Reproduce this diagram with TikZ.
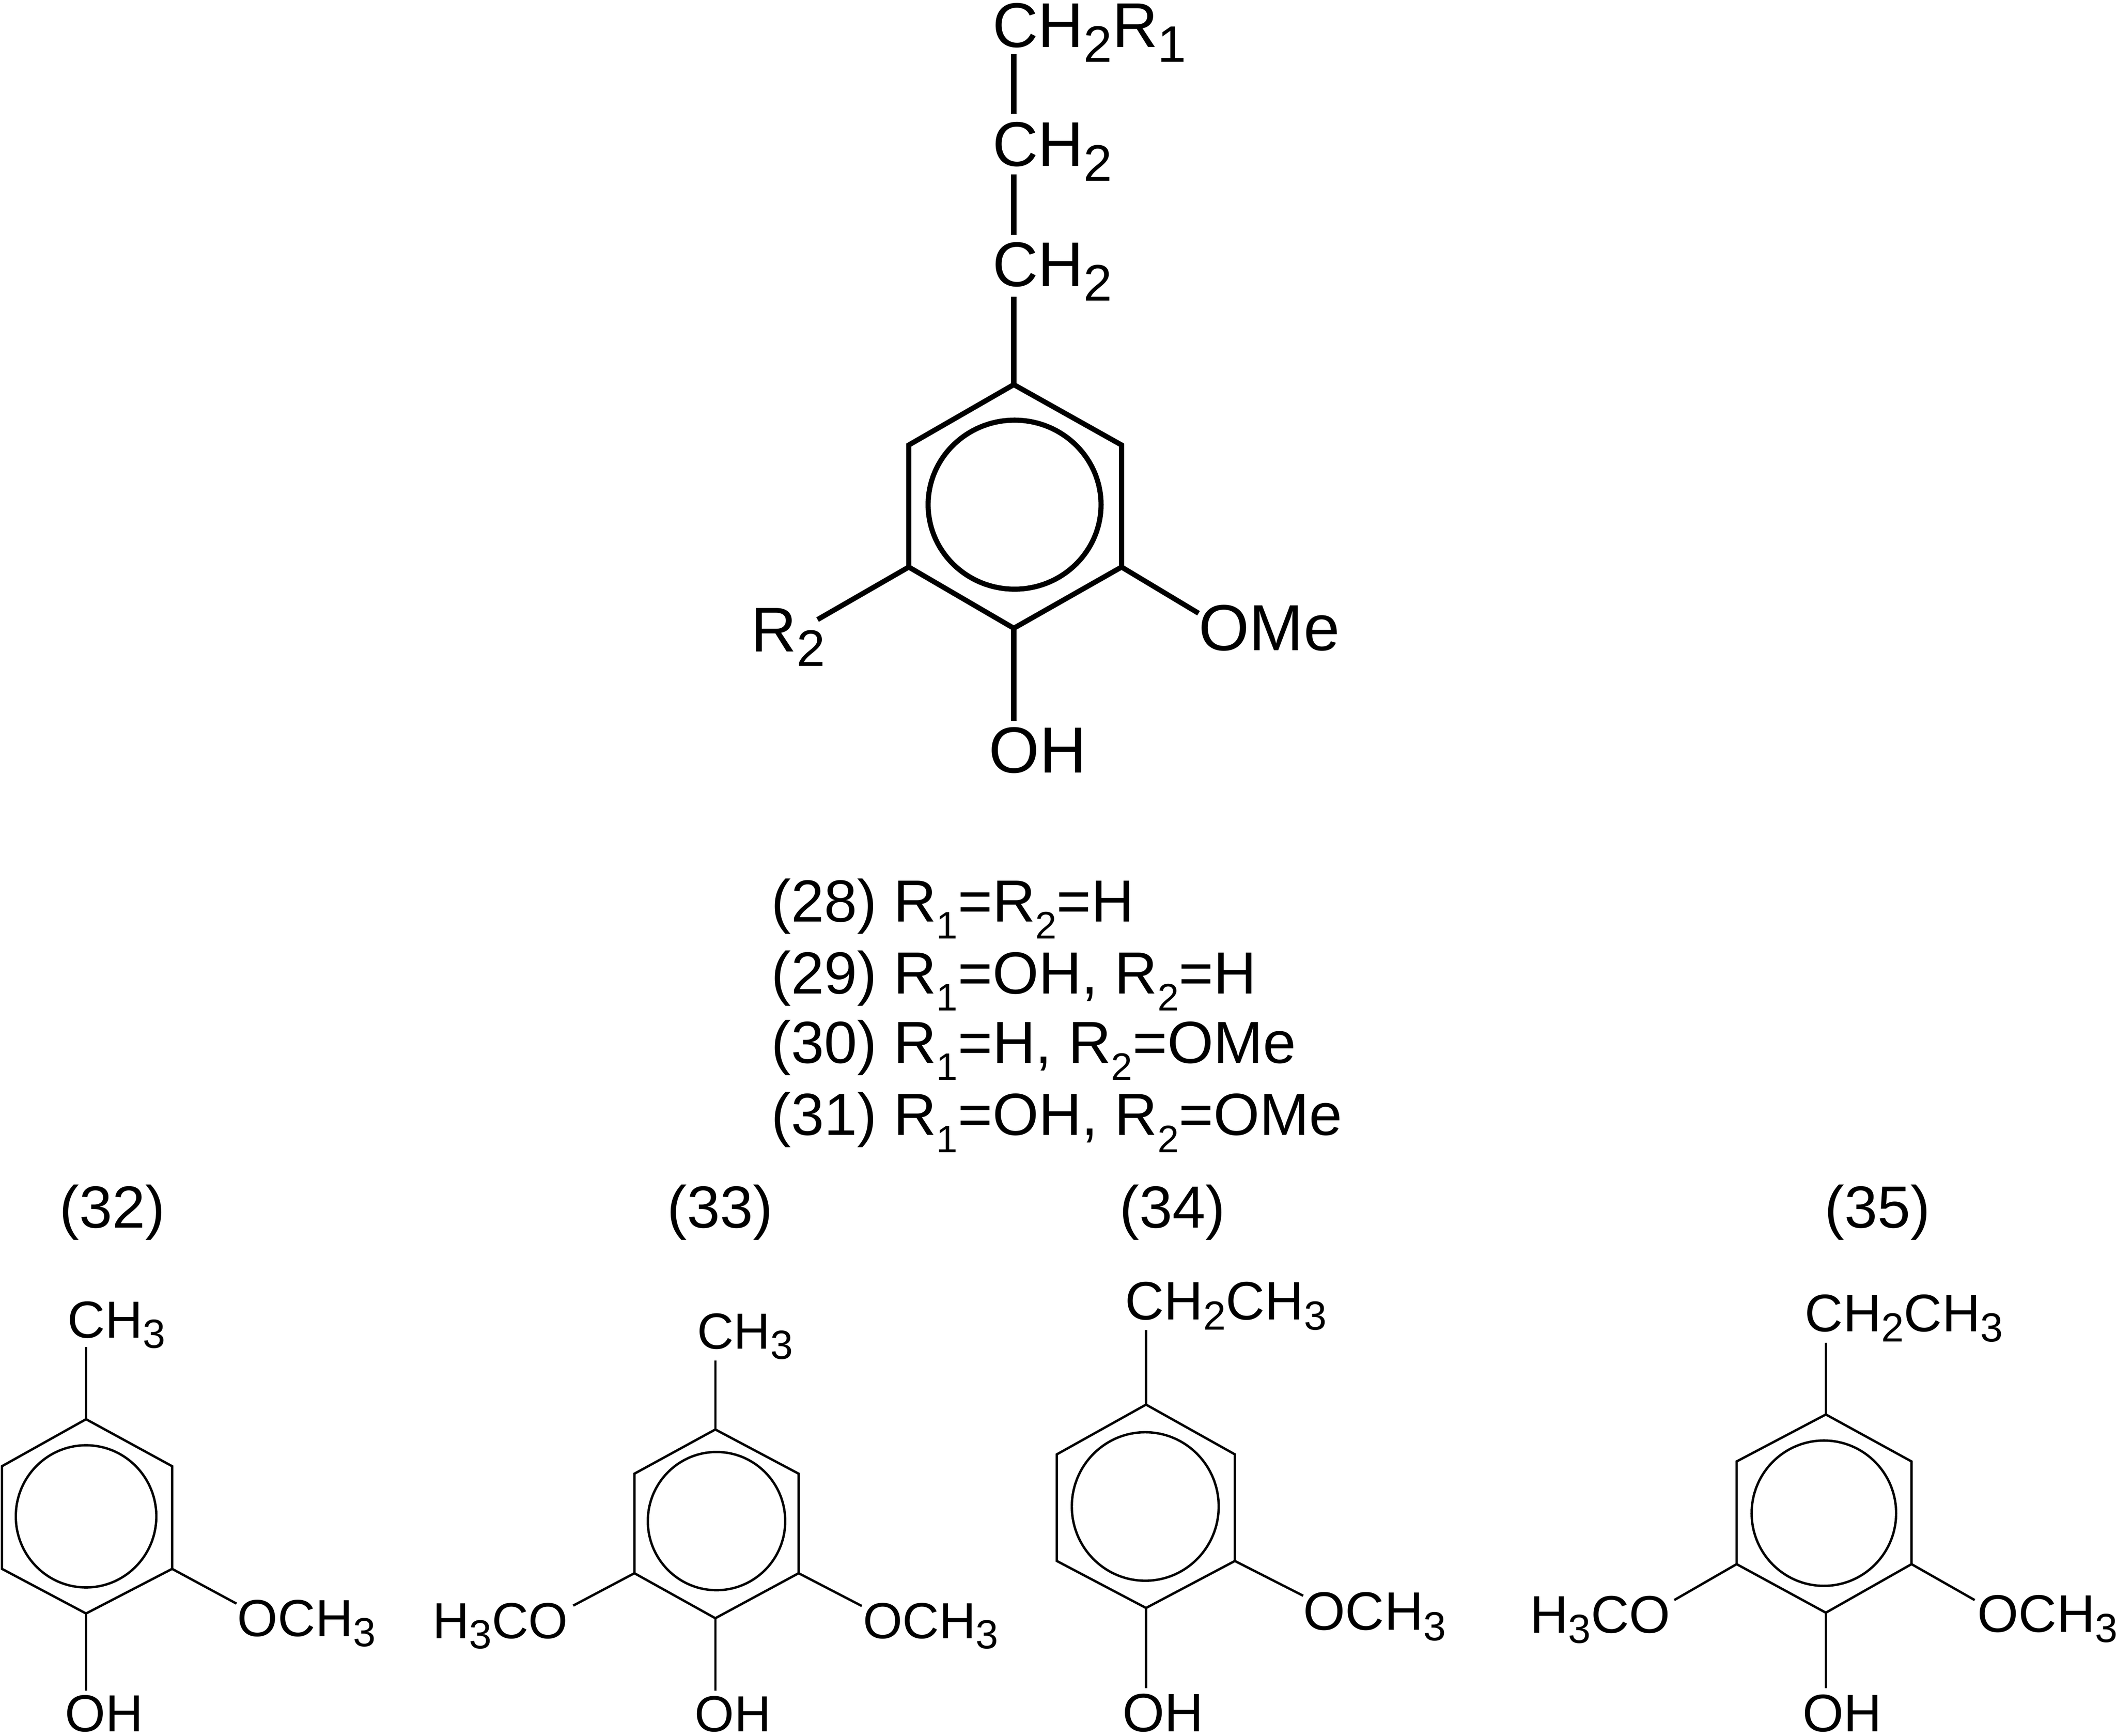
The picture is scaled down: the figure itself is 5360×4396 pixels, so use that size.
\documentclass[tikz,border=0pt]{standalone}
\usepackage{fontspec}
\setmainfont{Liberation Sans}
\newcommand\fA{\fontsize{33}{40}\selectfont}
\newcommand\fAA{\fontsize{32}{40}\selectfont}
\newcommand\fB{\fontsize{30.1}{36}\selectfont}
\newcommand\subA[1]{\raisebox{-7.4pt}{\fontsize{26}{32}\selectfont #1}}
\newcommand\subB[1]{\raisebox{-8.6pt}{\fontsize{19.4}{24}\selectfont #1}}
\newcommand\subC[1]{\raisebox{-5.2pt}{\fontsize{20.6}{24}\selectfont #1}}
\tikzset{
  txt/.style={anchor=base west,inner sep=0pt,outer sep=0pt,text=black},
  big/.style={txt,font=\fA},
  bigsub/.style={txt,font=\fAA},
  lst/.style={txt,font=\fB},
  smla/.style={txt,font=\fontsize{26.4}{32}\selectfont},
  smlb/.style={txt,font=\fontsize{25.7}{32}\selectfont},
  smlc/.style={txt,font=\fontsize{27.4}{32}\selectfont},
  smld/.style={txt,font=\fontsize{26.8}{32}\selectfont},
  bondthick/.style={draw=black,line width=2.6pt},
  bondthin/.style={draw=black,line width=1.2pt}
}
% name, xl, xc, xr, ytop, yu, yl, ybot
\newcommand\ringpts[8]{%
  \coordinate (#1t) at (#3,#5);
  \coordinate (#1ur) at (#4,#6);
  \coordinate (#1lr) at (#4,#7);
  \coordinate (#1b) at (#3,#8);
  \coordinate (#1ll) at (#2,#7);
  \coordinate (#1ul) at (#2,#6);
}
\newcommand\ringdraw[6]{% style, name, cx, cy, rx, ry
  \draw[#1] (#2t) -- (#2ur) -- (#2lr) -- (#2b) -- (#2ll) -- (#2ul) -- cycle;
  \draw[#1] (#3,#4) ellipse [x radius=#5,y radius=#6];
}
\begin{document}
\begin{tikzpicture}[x=0.2pt,y=-0.2pt]
\useasboundingbox (0,0) rectangle (5360,4396);
\clip (0,0) rectangle (5360,4396);
\fill[white] (0,0) rectangle (5360,4396);

% main molecule
\ringpts{m}{2302}{2568}{2841}{974}{1127}{1436}{1591}
\ringdraw{bondthick}{m}{2570}{1278}{219}{214}
\node[bigsub] (mch1) at (2514,120) {CH\subA{2}R\subA{1}};
\node[bigsub] (mch2) at (2514,421) {CH\subA{2}};
\node[bigsub] (mch3) at (2514,725) {CH\subA{2}};
\node[bigsub] (mr2) at (1902,1650) {R\subA{2}};
\node[big] (mome) at (3036,1647) {OMe};
\node[big] (moh) at (2505,1957) {OH};
\coordinate (b1a) at (2568,137);
\coordinate (b1b) at (2568,288);
\coordinate (b2a) at (2568,442);
\coordinate (b2b) at (2568,595);
\coordinate (b3a) at (2568,752);
\coordinate (mr2e) at (2071,1569);
\coordinate (momee) at (3036,1553);
\coordinate (mohe) at (2568,1826);
\draw[bondthick] (b1a) -- (b1b);
\draw[bondthick] (b2a) -- (b2b);
\draw[bondthick] (b3a) -- (mt);
\draw[bondthick] (mll) -- (mr2e);
\draw[bondthick] (mlr) -- (momee);
\draw[bondthick] (mb) -- (mohe);

% list
\node[lst] (l28) at (1954,2334) {(28) R\subB{1}=R\subB{2}=H};
\node[lst] (l29) at (1954,2516) {(29) R\subB{1}=OH, R\subB{2}=H};
\node[lst] (l30) at (1954,2692) {(30) R\subB{1}=H, R\subB{2}=OMe};
\node[lst] (l31) at (1954,2875) {(31) R\subB{1}=OH, R\subB{2}=OMe};

% numbers
\node[lst] (n32) at (151,3109) {(32)};
\node[lst] (n33) at (1690,3109) {(33)};
\node[lst] (n34) at (2836,3109) {(34)};
\node[lst] (n35) at (4622,3109) {(35)};

% 32
\ringpts{a}{5}{218}{436}{3594}{3713}{3973}{4086}
\ringdraw{bondthin}{a}{218}{3840}{178}{180}
\node[smla] (ach) at (171,3388) {CH\subC{3}};
\node[smla] (aoc) at (601,4144) {OCH\subC{3}};
\node[smla] (aoh) at (165,4385) {OH};
\coordinate (atop) at (218,3411);
\coordinate (aoce) at (599,4061);
\coordinate (aohe) at (218,4282);
\draw[bondthin] (atop) -- (at);
\draw[bondthin] (alr) -- (aoce);
\draw[bondthin] (ab) -- (aohe);

% 33
\ringpts{b}{1607}{1812}{2023}{3620}{3732}{3984}{4098}
\ringdraw{bondthin}{b}{1815}{3852}{174}{175}
\node[smlb] (bch) at (1766,3416) {CH\subC{3}};
\node[smlb] (boc) at (2186,4149) {OCH\subC{3}};
\node[smlb] (bho) at (1096,4149) {H\subC{3}CO};
\node[smlb] (boh) at (1760,4385) {OH};
\coordinate (btop) at (1812,3445);
\coordinate (boce) at (2183,4067);
\coordinate (bhoe) at (1452,4066);
\coordinate (bohe) at (1812,4282);
\draw[bondthin] (btop) -- (bt);
\draw[bondthin] (blr) -- (boce);
\draw[bondthin] (bll) -- (bhoe);
\draw[bondthin] (bb) -- (bohe);

% 34
\ringpts{c}{2677}{2903}{3128}{3557}{3683}{3953}{4072}
\ringdraw{bondthin}{c}{2901}{3815}{186}{188}
\node[smlc] (cch) at (2850,3342) {CH\subC{2}CH\subC{3}};
\node[smlc] (coc) at (3301,4128) {OCH\subC{3}};
\node[smlc] (coh) at (2843,4385) {OH};
\coordinate (ctop) at (2903,3368);
\coordinate (coce) at (3301,4041);
\coordinate (cohe) at (2903,4275);
\draw[bondthin] (ctop) -- (ct);
\draw[bondthin] (clr) -- (coce);
\draw[bondthin] (cb) -- (cohe);

% 35
\ringpts{d}{4399}{4625}{4842}{3582}{3701}{3961}{4084}
\ringdraw{bondthin}{d}{4620}{3832}{183}{184}
\node[smld] (dch) at (4572,3372) {CH\subC{2}CH\subC{3}};
\node[smld] (doc) at (5009,4133) {OCH\subC{3}};
\node[smld] (dho) at (3876,4135) {H\subC{3}CO};
\node[smld] (doh) at (4566,4385) {OH};
\coordinate (dtop) at (4625,3400);
\coordinate (doce) at (5002,4052);
\coordinate (dhoe) at (4241,4052);
\coordinate (dohe) at (4625,4275);
\draw[bondthin] (dtop) -- (dt);
\draw[bondthin] (dlr) -- (doce);
\draw[bondthin] (dll) -- (dhoe);
\draw[bondthin] (db) -- (dohe);
\end{tikzpicture}
\end{document}
